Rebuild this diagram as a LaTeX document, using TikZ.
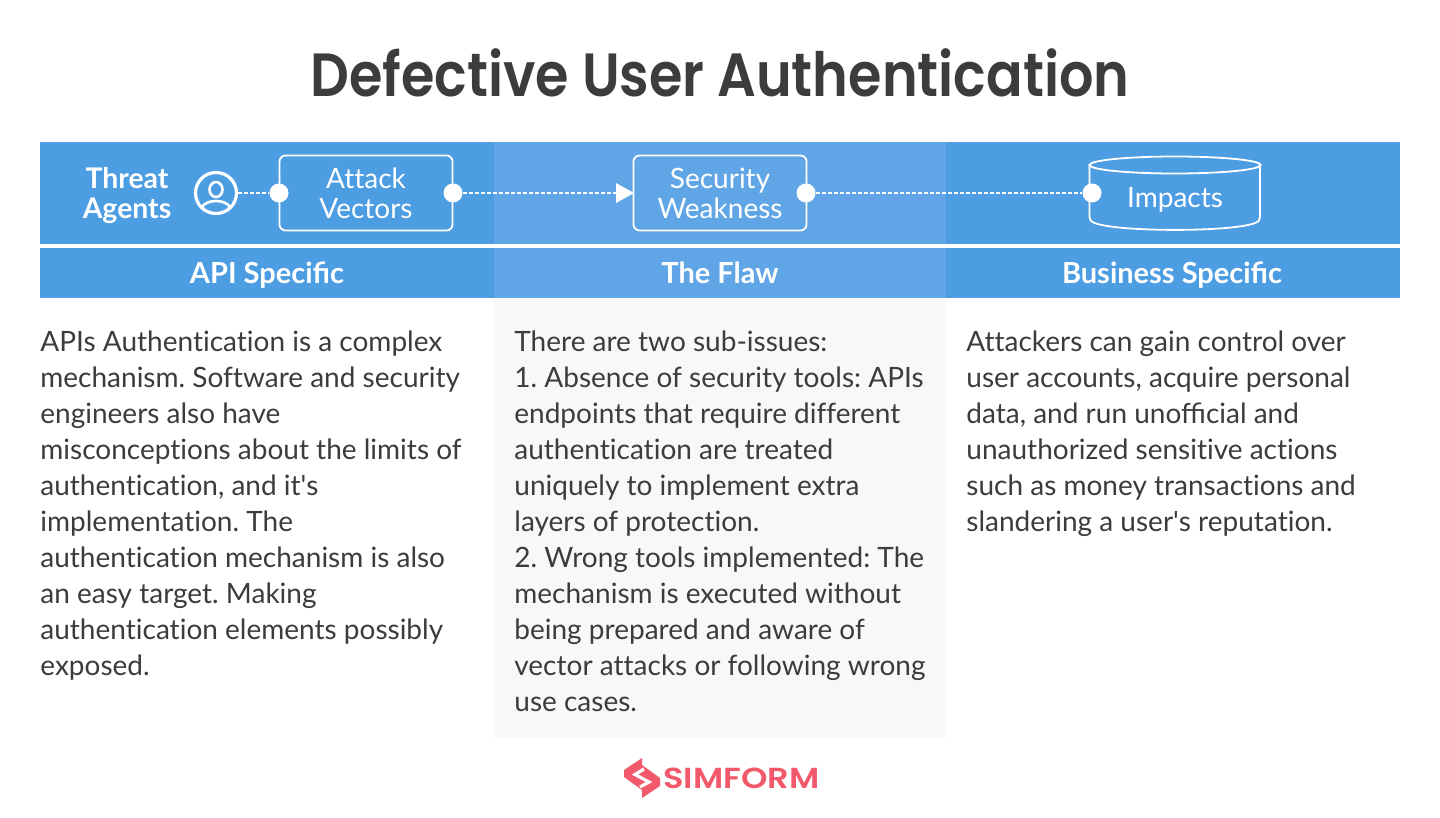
\documentclass[tikz,border=0pt]{standalone}
\usepackage{fontspec}
\setmainfont{Lato}[Ligatures=CommonOff]
\newfontfamily\titlefont[FakeStretch=0.887]{Poppins SemiBold}
\newfontfamily\logofont[FakeStretch=1.16]{Poppins SemiBold}
\definecolor{barblue}{HTML}{4D9DE3}
\definecolor{midblue}{HTML}{60A6E6}
\definecolor{txt}{HTML}{3C3C3C}
\definecolor{pale}{HTML}{F8F8F8}
\definecolor{logored}{HTML}{F25A6C}
\usetikzlibrary{arrows.meta}
\tikzset{
 x=0.5pt,y=-0.5pt,
 band/.style={fill=barblue,draw=none},
 bandmid/.style={fill=midblue,draw=none},
 wbox/.style={draw=white,line width=0.9pt,rounded corners=3pt,minimum width=86.5pt,minimum height=37.5pt,inner sep=0pt,text=white,align=center,font=\fontsize{14}{15}\selectfont},
 dot/.style={circle,fill=white,minimum size=9.5pt,inner sep=0pt},
 conn/.style={draw=white,line width=0.8pt,dash pattern=on 2pt off 1pt},
 head/.style={text=white,anchor=base,font=\fontsize{14.5}{15}\selectfont\bfseries},
 body/.style={anchor=north west,inner sep=0pt,text=txt,align=left,font=\fontsize{14}{18}\selectfont\frenchspacing},
}
\begin{document}
\begin{tikzpicture}
\useasboundingbox (0,0) rectangle (1440,818);
\fill[white] (0,0) rectangle (1440,818);
\node[text=txt,font=\titlefont\fontsize{30.5}{34}\selectfont] (title) at (720,73) {Defective User Authentication};
\fill[pale] (494,298) rectangle (946,738);
\fill[band] (40,142) rectangle (494,244);
\fill[bandmid] (494,142) rectangle (946,244);
\fill[band] (946,142) rectangle (1400,244);
\fill[band] (40,248) rectangle (494,298);
\fill[bandmid] (494,248) rectangle (946,298);
\fill[band] (946,248) rectangle (1400,298);
\node[head] (h1) at (267,283.5) {API Speciﬁc};
\node[head] (h2) at (720,283.5) {The Flaw};
\node[head] (h3) at (1172,283.5) {Business Speciﬁc};
\node[text=white,align=center,font=\fontsize{14.2}{15}\selectfont\bfseries] (ta) at (127,196) {Threat\\Agents};
\node[circle,draw=white,line width=1.6pt,minimum size=20.5pt,inner sep=0pt] (user) at (216,193) {};
\draw[white,line width=1.3pt] (216,189.5) ellipse (6.5 and 7.5);
\draw[white,line width=1.3pt] (202,207) .. controls (207,199) and (225,199) .. (230,207);
\node[wbox] (av) at (366,193) {Attack\\Vectors};
\node[wbox] (sw) at (720,193) {Security\\Weakness};
\node[dot] (d1) at (279,193) {};
\node[dot] (d2) at (453,193) {};
\node[dot] (d3) at (806,193) {};
\fill[barblue] (1089,156) rectangle (1260,228);
\draw[white,line width=0.9pt] (1175,165) ellipse (85.5 and 8.5);
\draw[white,line width=0.9pt,rounded corners=1pt] (1089.5,165) -- (1089.5,219) .. controls (1100,233) and (1250,233) .. (1260,219) -- (1260,165);
\node[text=white,font=\fontsize{14}{15}\selectfont] (imp) at (1175,200) {Impacts};
\node[dot] (d4) at (1092,193) {};
\fill[white] (616,183) -- (634,193) -- (616,203) -- cycle;
\coordinate (tipback) at (616,193);
\draw[conn] (user.east) -- (d1.west);
\draw[conn] (d2.east) -- (tipback);
\draw[conn] (d3.east) -- (d4.west);
\node[body] (b1) at (40,330) {APIs Authentication is a complex\\mechanism. Software and security\\engineers also have\\misconceptions about the limits of\\authentication, and it\textquotesingle s\\implementation. The\\authentication mechanism is also\\an easy target. Making\\authentication elements possibly\\exposed.};
\node[body] (b2) at (514,330) {There are two sub-issues:\\1. Absence of security tools: APIs\\endpoints that require different\\authentication are treated\\uniquely to implement extra\\layers of protection.\\2. Wrong tools implemented: The\\mechanism is executed without\\being prepared and aware of\\vector attacks or following wrong\\use cases.};
\node[body] (b3) at (966,330) {Attackers can gain control over\\user accounts, acquire personal\\data, and run unoﬃcial and\\unauthorized sensitive actions\\such as money transactions and\\slandering a user\textquotesingle s reputation.};
% logo
\fill[logored] (642,758) -- (624,770) -- (624,777) -- (642,790) -- (642,798) -- (660,786) -- (660,778) -- (642,765) -- cycle;
\draw[white,line width=1.6pt] (644,769) -- (635,774.5) -- (649,782) -- (640,787);
\node[text=logored,font=\logofont\fontsize{14.5}{15}\selectfont] (logo) at (741.5,778) {SIMFORM};
\end{tikzpicture}
\end{document}
